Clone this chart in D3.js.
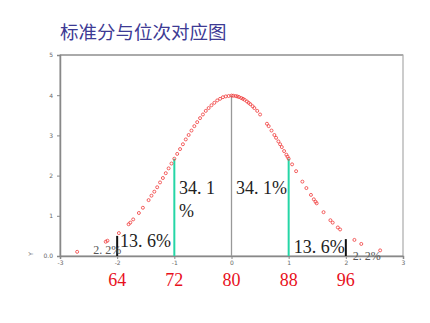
<!DOCTYPE html>
<html><head><meta charset="utf-8">
<script src="https://cdn.jsdelivr.net/npm/d3@7"></script>
<style>body{margin:0;background:#fff}svg{display:block}</style>
</head><body><svg id="c" width="430" height="323"></svg>
<script>
const title = "标准分与位次对应图";
const xTicks = [-3,-2,-1,0,1,2,3];
const yTicks = [0,1,2,3,4,5];
const scoreLabels = [64,72,80,88,96];
const scoreZ = [-2,-1,0,1,2];
const pointZ = [-2.70,-2.20,-2.17,-1.97,-1.80,-1.77,-1.72,-1.62,-1.55,-1.45,-1.40,-1.35,-1.30,-1.25,-1.20,-1.15,-1.10,-1.05,-1.00,-0.95,-0.90,-0.85,-0.80,-0.75,-0.70,-0.65,-0.60,-0.55,-0.50,-0.45,-0.40,-0.35,-0.30,-0.25,-0.20,-0.15,-0.10,-0.05,0.00,
 0.03,0.07,0.10,0.13,0.17,0.20,0.23,0.27,0.30,0.33,0.37,0.40,0.45,0.50,0.62,0.65,0.70,0.75,0.78,0.82,0.85,0.88,0.92,0.96,0.98,1.00,1.06,1.13,1.24,1.31,1.39,1.44,1.47,1.49,1.61,1.73,1.77,1.86,1.90,2.15,2.27,2.60];
const pointY = [0.104,0.355,0.38,0.57,0.79,0.83,0.91,1.07,1.20,1.39,1.50,1.60,1.71,1.83,1.94,2.06,2.18,2.30,2.42,2.54,2.66,2.78,2.90,3.01,3.12,3.23,3.33,3.43,3.52,3.61,3.68,3.75,3.81,3.87,3.91,3.95,3.97,3.98,3.99,
 3.987,3.979,3.97,3.955,3.93,3.91,3.885,3.845,3.81,3.777,3.725,3.68,3.61,3.52,3.29,3.23,3.12,3.01,2.94,2.85,2.78,2.71,2.61,2.52,2.47,2.42,2.28,2.11,1.85,1.69,1.52,1.41,1.35,1.31,1.09,0.89,0.83,0.71,0.66,0.40,0.30,0.14];
const lineZ = [-2,-1,0,1,2];
const lineTop = [0.5,2.42,3.99,2.42,0.42];
const lineKind = ["black","green","gray","green","black"];
const pctText = ["2. 2%","13. 6%","34. 1","%","34. 1%","13. 6%","2. 2%"];
const pctZ = [-2.42,-1.95,-0.92,-0.92,0.08,1.09,2.12];
const pctY = [0.05,0.22,1.55,0.97,1.55,0.08,-0.1];
const pctSize = [12,18,18,18,18,18,12];
const pctColor = ["#555","#222","#222","#222","#222","#222","#555"];

const svg = d3.select("#c");
const x = d3.scaleLinear().domain([-3,3]).range([60,403]);
const y = d3.scaleLinear().domain([0,5]).range([256,55]);

svg.append("text").attr("x",60).attr("y",39).attr("fill","#3d3a94")
  .attr("font-family","Noto Sans CJK SC").attr("font-size",18.5).text(title);

// frame
svg.append("rect").attr("x",x(-3)).attr("y",y(5)).attr("width",x(3)-x(-3)).attr("height",y(0)-y(5))
  .attr("fill","none").attr("stroke","#999").attr("stroke-width",1);
svg.append("line").attr("x1",x(-3)).attr("x2",x(3)).attr("y1",y(5)).attr("y2",y(5)).attr("stroke","#aaa").attr("stroke-width",2);

const xa = svg.append("g").attr("transform",`translate(0,${y(0)})`)
  .call(d3.axisBottom(x).tickValues(xTicks).tickSize(3).tickPadding(2).tickFormat(d=>d));
const ya = svg.append("g").attr("transform",`translate(${x(-3)},0)`)
  .call(d3.axisLeft(y).tickValues(yTicks).tickSize(3).tickPadding(4).tickFormat(d=>d===0?"0.0":d));
[xa,ya].forEach(a=>{
  a.select(".domain").attr("stroke","#888").attr("stroke-width",1.5);
  a.selectAll(".tick line").attr("stroke","#888");
  a.selectAll("text").attr("fill","#666").attr("font-size",6).attr("font-family","DejaVu Sans");
});
svg.append("text").attr("transform",`translate(33,254) rotate(-90)`).attr("text-anchor","middle")
  .attr("font-size",6).attr("fill","#666").attr("font-family","DejaVu Sans").text("Y");

// vertical lines
const colors = {black:"#111",green:"#25d6a6",gray:"#999"};
const widths = {black:2,green:2,gray:1.3};
svg.selectAll("line.v").data(lineZ).enter().append("line")
  .attr("x1",d=>x(d)).attr("x2",d=>x(d)).attr("y1",y(0)).attr("y2",(d,i)=>y(lineTop[i]))
  .attr("stroke",(d,i)=>colors[lineKind[i]]).attr("stroke-width",(d,i)=>widths[lineKind[i]]);

// points
svg.selectAll("circle.p").data(pointZ).enter().append("circle")
  .attr("cx",d=>x(d)).attr("cy",(d,i)=>y(pointY[i])).attr("r",1.5)
  .attr("fill","none").attr("stroke","#f03a3a").attr("stroke-width",0.8);

// percentage texts
svg.selectAll("text.pct").data(pctText).enter().append("text")
  .attr("x",(d,i)=>x(pctZ[i])).attr("y",(d,i)=>y(pctY[i]))
  .attr("font-size",(d,i)=>pctSize[i]).attr("fill",(d,i)=>pctColor[i])
  .attr("font-family","Liberation Serif, Noto Serif CJK SC, serif").text(d=>d);

// score labels
svg.selectAll("text.sc").data(scoreLabels).enter().append("text")
  .attr("x",(d,i)=>x(scoreZ[i])).attr("y",286).attr("text-anchor","middle")
  .attr("font-size",18).attr("fill","#e8101c").attr("font-family","Liberation Serif, serif").text(d=>d);
</script></body></html>
